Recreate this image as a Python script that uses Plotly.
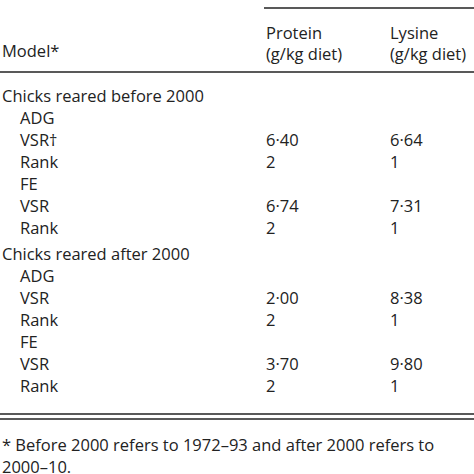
import plotly.graph_objects as go

row_labels = ["Chicks reared before 2000", "ADG", "VSR†", "Rank", "FE", "VSR", "Rank",
              "Chicks reared after 2000", "ADG", "VSR", "Rank", "FE", "VSR", "Rank"]
indent = [0, 1, 1, 1, 1, 1, 1, 0, 1, 1, 1, 1, 1, 1]
protein = ["", "", "6·40", "2", "", "6·74", "2", "", "", "2·00", "2", "", "3·70", "2"]
lysine = ["", "", "6·64", "1", "", "7·31", "1", "", "", "8·38", "1", "", "9·80", "1"]
row_y = [95, 117, 139, 161, 183, 205, 227, 253, 275, 297, 319, 341, 363, 385]
headers = ["Protein<br>(g/kg diet)", "Lysine<br>(g/kg diet)"]
footnote = ["* Before 2000 refers to 1972–93 and after 2000 refers to", "2000–10."]

FONT = dict(family="Open Sans", size=16.5, color="#222")
fig = go.Figure()
ann = []
ann.append(dict(x=0, y=50, text="Model*", xanchor="left"))
ann.append(dict(x=264, y=43, text=headers[0], xanchor="left", align="left"))
ann.append(dict(x=388, y=43, text=headers[1], xanchor="left", align="left"))
for lab, ind, p, l, y in zip(row_labels, indent, protein, lysine, row_y):
    ann.append(dict(x=0 + 18 * ind, y=y, text=lab, xanchor="left"))
    if p:
        ann.append(dict(x=264, y=y, text=p, xanchor="left"))
    if l:
        ann.append(dict(x=388, y=y, text=l, xanchor="left"))
ann.append(dict(x=0, y=444, text=footnote[0], xanchor="left"))
ann.append(dict(x=0, y=466, text=footnote[1], xanchor="left"))
for a in ann:
    a.update(xref="x", yref="y", showarrow=False, yanchor="middle", font=FONT)
fig.update_layout(annotations=ann)

lc = dict(color="#222", width=1.3)
shapes = [
    dict(type="line", x0=264, x1=474, y0=8, y1=8, line=lc),
    dict(type="line", x0=0, x1=474, y0=72, y1=72, line=lc),
    dict(type="line", x0=0, x1=474, y0=414, y1=414, line=lc),
    dict(type="line", x0=0, x1=474, y0=419, y1=419, line=lc),
]
for s in shapes:
    s.update(xref="x", yref="y")
fig.update_layout(shapes=shapes, width=474, height=474,
                  margin=dict(l=0, r=0, t=0, b=0),
                  paper_bgcolor="white", plot_bgcolor="white",
                  xaxis=dict(range=[0, 474], visible=False, fixedrange=True),
                  yaxis=dict(range=[474, 0], visible=False, fixedrange=True),
                  showlegend=False)
fig.write_html("out.html", config={"displayModeBar": False},
               post_script="document.body.style.margin='0';document.body.style.overflow='hidden';")
